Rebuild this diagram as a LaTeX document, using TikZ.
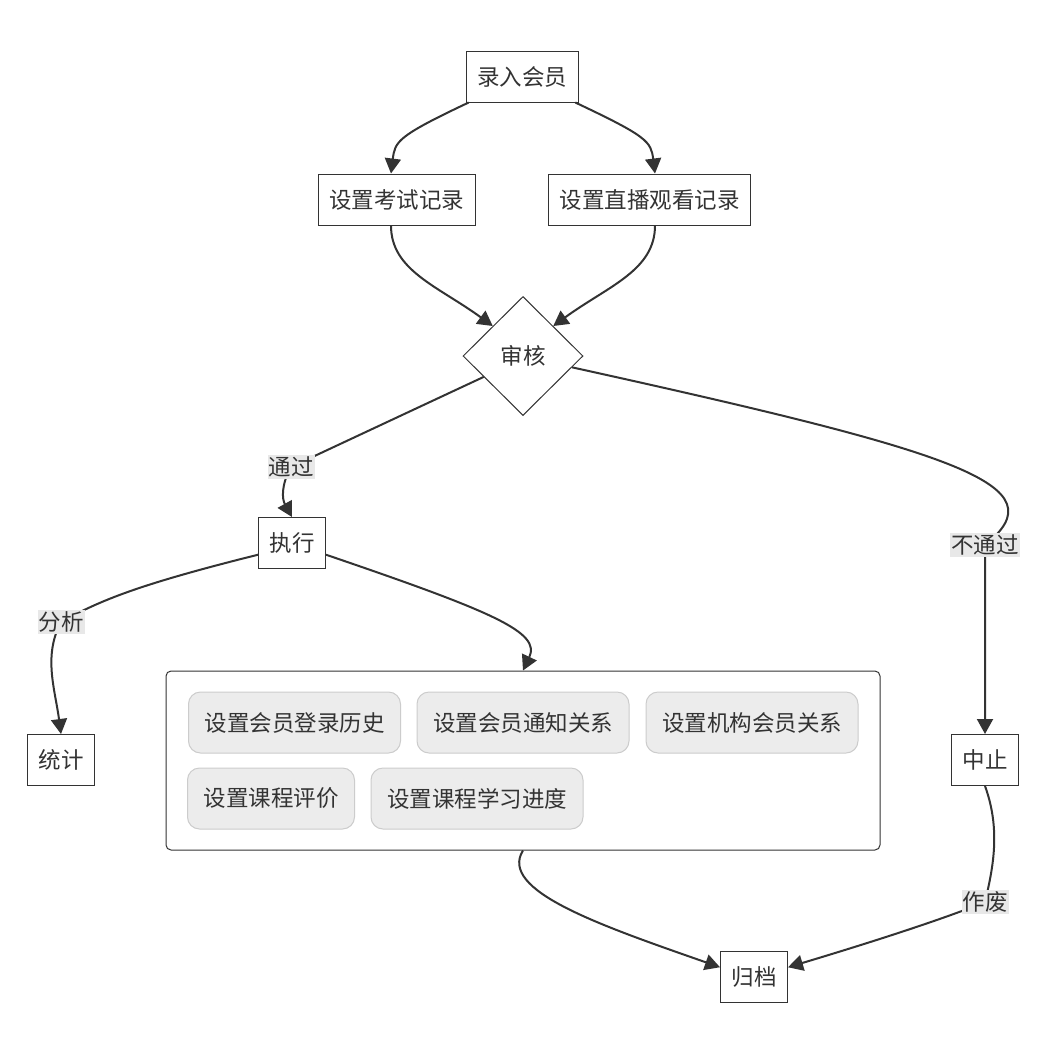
\documentclass[tikz,border=0pt]{standalone}
\usepackage{fontspec}
\setmainfont{Noto Sans CJK SC}
\usetikzlibrary{arrows.meta,shapes.geometric}

\definecolor{ink}{HTML}{333333}
\definecolor{itemfill}{HTML}{ECECEC}
\definecolor{itemline}{HTML}{CCCCCC}
\definecolor{lblfill}{HTML}{E8E8E8}

\begin{document}
\begin{tikzpicture}[x=1pt,y=-1pt,>={Triangle[length=15pt,width=16pt]},
                    line width=2pt,text=ink,
                    font=\fontsize{22.5}{27}\selectfont]
  \tikzset{box/.style={draw=ink,line width=1pt,fill=white,minimum height=51pt,
                       inner xsep=11pt,inner ysep=0pt},
           decision/.style={diamond,draw=ink,line width=1pt,fill=white,
                       minimum width=120pt,minimum height=119pt,inner sep=0pt},
           group/.style={draw=ink,line width=1pt,rounded corners=5pt,fill=white,
                       minimum width=714pt,minimum height=179pt},
           item/.style={draw=itemline,line width=1pt,fill=itemfill,rounded corners=12pt,
                       minimum height=61pt,inner xsep=16pt,inner ysep=0pt},
           lbl/.style={fill=lblfill,inner sep=1pt,minimum height=24pt},
           flow/.style={draw=ink,->}}
  \useasboundingbox (0,0) rectangle (1046,1058);

  \node[box]      (enter) at (522,76.5)    {录入会员};
  \node[box]      (exam)  at (396.5,199.5) {设置考试记录};
  \node[box]      (live)  at (649.5,199.5) {设置直播观看记录};
  \node[decision] (audit) at (523,356)     {审核};
  \node[box]      (exec)  at (292,543)     {执行};
  \node[box]      (stat)  at (61,760)      {统计};
  \node[group]    (grp)   at (523,760.5)   {};
  \node[item]     (hist)  at (294.5,722.5) {设置会员登录历史};
  \node[item]     (notice) at (523,722.5)  {设置会员通知关系};
  \node[item]     (org)   at (752,722.5)   {设置机构会员关系};
  \node[item]     (rate)  at (271,798.5)   {设置课程评价};
  \node[item]     (study) at (477,798.5)   {设置课程学习进度};
  \node[box]      (halt)  at (985,760)     {中止};
  \node[box]      (arch)  at (754,977)     {归档};

  % label points
  \coordinate (lpass) at (291,467);
  \coordinate (lfail) at (985,545);
  \coordinate (lana)  at (61,622);
  \coordinate (lvoid) at (985,902);

  \draw[flow] (enter.206) .. controls +(-72,34) and +(4,-32) .. ([xshift=-5.5pt]exam.north);
  \draw[flow] (enter.334) .. controls +(72,34) and +(-4,-32) .. ([xshift=5.5pt]live.north);
  \draw[flow] ([xshift=-5.5pt]exam.south) .. controls +(0,45) and +(-55,-40) .. (audit.north west);
  \draw[flow] ([xshift=5.5pt]live.south) .. controls +(0,45) and +(55,-40) .. (audit.north east);
  \draw[flow] (audit.208) .. controls +(-90,42) and +(30,-14) .. (lpass) node[lbl] {通过}
              .. controls +(-10,18) and +(-10,-18) .. (exec.north);
  \draw[flow] (audit.-13) .. controls +(390,86) and +(75,-60) .. (lfail) node[lbl] {不通过}
              -- (halt.north);
  \draw[flow] (exec.199) .. controls +(-120,30) and +(40,-22) .. (lana) node[lbl] {分析}
              .. controls +(-18,34) and +(-6,-45) .. (stat.north);
  \draw[flow] (exec.-19) .. controls +(170,58) and +(18,-38) .. (grp.north);
  \draw[flow] (grp.south) .. controls +(-25,40) and +(-120,-42) .. (arch.164);
  \draw[flow] (halt.south) .. controls +(16,44) and +(8,-34) .. (lvoid) node[lbl] {作废}
              .. controls +(-34,14) and +(100,-30) .. (arch.16);
\end{tikzpicture}
\end{document}
